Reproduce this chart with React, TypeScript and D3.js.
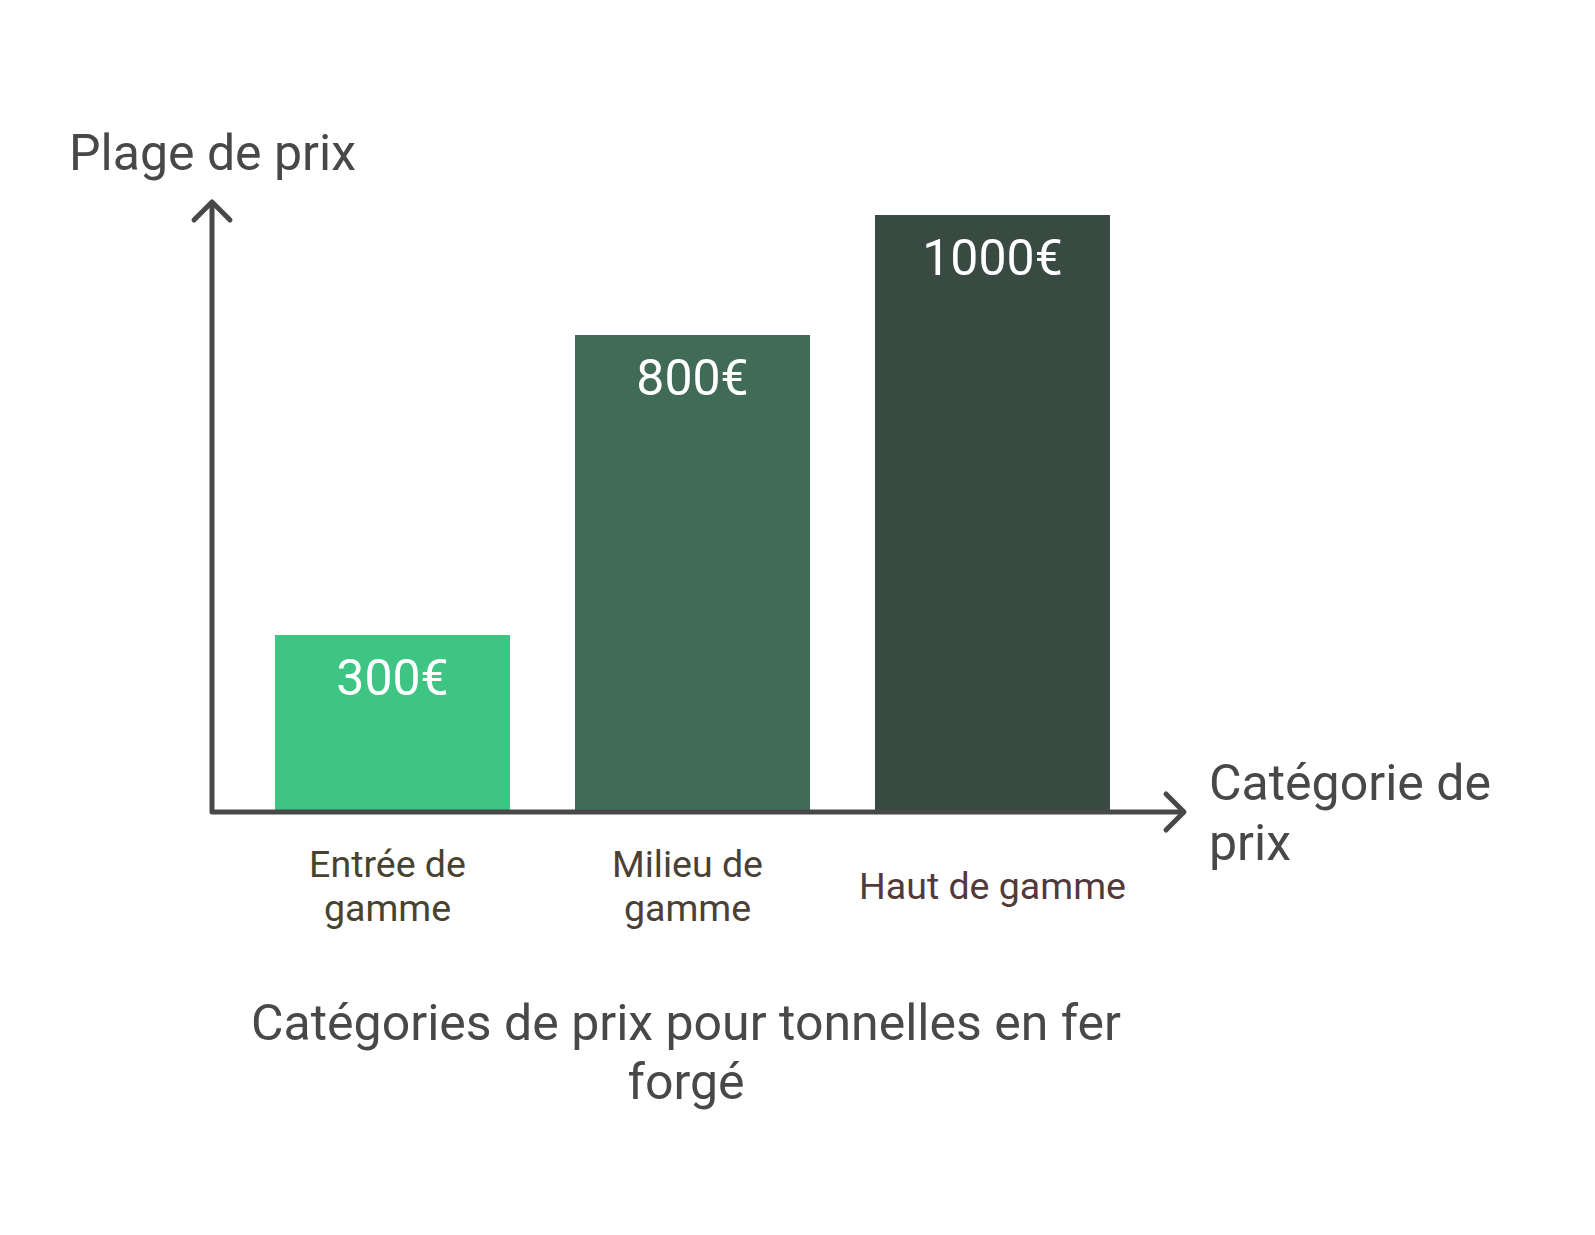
import * as d3 from "d3";

const W = 1595;
const H = 1235;

const categories = ["Entrée de gamme", "Milieu de gamme", "Haut de gamme"];
const categoryLines = [["Entrée de", "gamme"], ["Milieu de", "gamme"], ["Haut de gamme"]];
const prices = [300, 800, 1000];
const priceLabels = ["300€", "800€", "1000€"];
const barColors = ["#3ec584", "#406b57", "#384a42"];
const labelColors = ["#48432f", "#4a4036", "#523a3a"];

const AXIS = "#484848";
const FONT = "Roboto, 'Noto Sans', sans-serif";

const ORIGIN = { x: 212, y: 812 };
const Y_TOP = 202;
const X_END = 1184;

export default function App() {
  const x = d3
    .scaleBand<string>()
    .domain(categories)
    .range([275, 1110])
    .paddingInner(65 / 300)
    .paddingOuter(0);

  const y = d3.scaleLinear().domain([0, 1000]).range([815, 215]);
  const base = 810;

  const axisPath = d3.path();
  axisPath.moveTo(ORIGIN.x, Y_TOP);
  axisPath.lineTo(ORIGIN.x, ORIGIN.y);
  axisPath.lineTo(X_END, ORIGIN.y);

  return (
    <div style={{ position: "absolute", left: 0, top: 0 }}>
      <svg width={W} height={H} style={{ display: "block", background: "#fff" }}>
        {/* bars */}
        {categories.map((c, i) => (
          <g key={c}>
            <rect
              x={x(c)}
              y={y(prices[i])}
              width={x.bandwidth()}
              height={base - y(prices[i])}
              fill={barColors[i]}
            />
            <text
              x={(x(c) ?? 0) + x.bandwidth() / 2}
              y={y(prices[i]) + 60}
              textAnchor="middle"
              fontFamily={FONT}
              fontSize={50}
              fill="#ffffff"
            >
              {priceLabels[i]}
            </text>
          </g>
        ))}

        {/* axes */}
        <path
          d={axisPath.toString()}
          fill="none"
          stroke={AXIS}
          strokeWidth={5}
          strokeLinejoin="round"
        />
        <polyline
          points={`${ORIGIN.x - 18},${Y_TOP + 18} ${ORIGIN.x},${Y_TOP} ${ORIGIN.x + 18},${Y_TOP + 18}`}
          fill="none"
          stroke={AXIS}
          strokeWidth={5}
          strokeLinecap="round"
          strokeLinejoin="round"
        />
        <polyline
          points={`${X_END - 18},${ORIGIN.y - 18} ${X_END},${ORIGIN.y} ${X_END - 18},${ORIGIN.y + 18}`}
          fill="none"
          stroke={AXIS}
          strokeWidth={5}
          strokeLinecap="round"
          strokeLinejoin="round"
        />

        {/* category labels */}
        {categories.map((c, i) => {
          const lines = categoryLines[i];
          const cx = (x(c) ?? 0) + x.bandwidth() / 2 - (lines.length > 1 ? 5 : 0);
          const mid = 899;
          const lh = 44;
          const first = mid - ((lines.length - 1) * lh) / 2;
          return (
            <text
              key={c}
              textAnchor="middle"
              fontFamily={FONT}
              fontSize={37.5}
              fill={labelColors[i]}
            >
              {lines.map((l, j) => (
                <tspan key={j} x={cx} y={first + j * lh}>
                  {l}
                </tspan>
              ))}
            </text>
          );
        })}

        {/* axis titles */}
        <text x={69} y={170} fontFamily={FONT} fontSize={50} fill={AXIS}>
          Plage de prix
        </text>
        <text fontFamily={FONT} fontSize={50} fill={AXIS}>
          <tspan x={1209} y={800}>Catégorie de</tspan>
          <tspan x={1209} y={860}>prix</tspan>
        </text>

        {/* chart title */}
        <text textAnchor="middle" fontFamily={FONT} fontSize={50} fill={AXIS}>
          <tspan x={686} y={1040}>Catégories de prix pour tonnelles en fer</tspan>
          <tspan x={686} y={1099}>forgé</tspan>
        </text>
      </svg>
    </div>
  );
}
